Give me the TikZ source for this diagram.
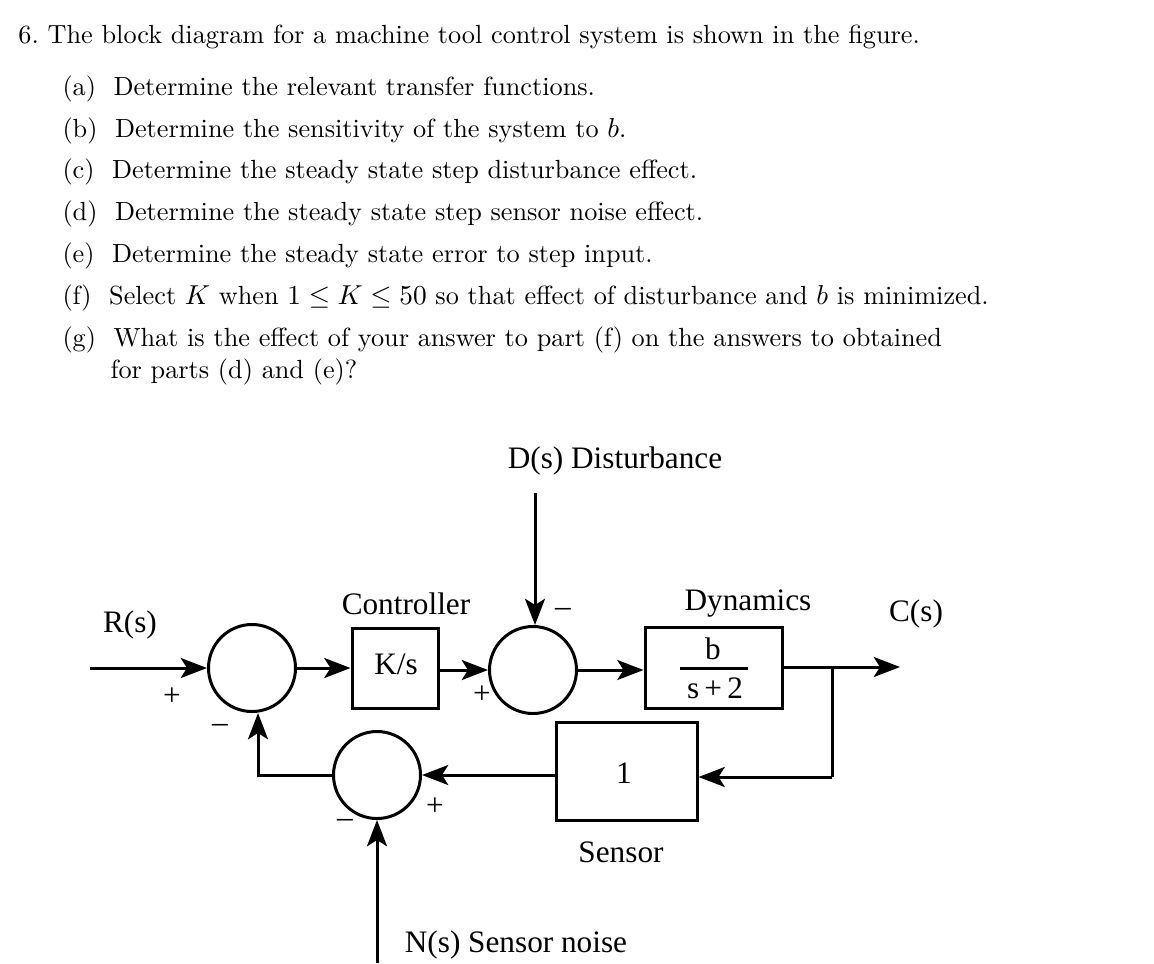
\documentclass[tikz,border=0pt]{standalone}
\usepackage{fontspec}
\usepackage{amsmath}
\newfontfamily\dfont{Liberation Serif}
\usetikzlibrary{arrows.meta}
\begin{document}
\begin{tikzpicture}[x=0.4pt,y=-0.4pt,
  txt/.style={anchor=west,inner sep=0,font=\fontsize{10.5}{12}\selectfont},
  lab/.style={inner sep=0,font=\dfont\fontsize{12.5}{14}\selectfont},
  sum/.style={circle,draw,line width=1.2pt,minimum size=34.8pt,inner sep=0},
  blk/.style={draw,line width=1.2pt,inner sep=0},
  sig/.style={line width=1.2pt,-{Stealth[length=10.5pt,width=8pt,inset=2.5pt]}},
  wire/.style={line width=1.2pt}]
\useasboundingbox (0,0) rectangle (1154,963);
\node[txt] (h) at (18,37) {6.\ The block diagram for a machine tool control system is shown in the figure.};
\node[txt] (a) at (62,89) {(a)\ \ Determine the relevant transfer functions.};
\node[txt] (b) at (62,131) {(b)\ \ Determine the sensitivity of the system to $b$.};
\node[txt] (c) at (62,172) {(c)\ \ Determine the steady state step disturbance effect.};
\node[txt] (d) at (62,214) {(d)\ \ Determine the steady state step sensor noise effect.};
\node[txt] (e) at (62,256) {(e)\ \ Determine the steady state error to step input.};
\node[txt] (f) at (62,298) {(f)\ \ Select $K$ when $1\le K\le 50$ so that effect of disturbance and $b$ is minimized.};
\node[txt] (g) at (62,340) {(g)\ \ What is the effect of your answer to part (f) on the answers to obtained};
\node[txt] (g2) at (110,372) {for parts (d) and (e)?};

\node[sum] (s1) at (252,668) {};
\node[sum] (s2) at (533,670) {};
\node[sum] (s3) at (377,775) {};
\node[blk,minimum width=34.4pt,minimum height=32pt] (k) at (395,668) {};
\node[lab] at (396,664) {K/s};
\node[blk,minimum width=54.8pt,minimum height=32.4pt] (dyn) at (713.5,667.5) {};
\node[lab] (num) at (713,649) {b};
\draw[wire] (680,668) -- (748,668);
\node[lab] at (715,688) {s\,+\,2};
\node[blk,minimum width=56.4pt,minimum height=39.2pt] (sen) at (626.5,771) {};
\node[lab] at (624,773) {1};

\coordinate (rin) at (90,668);
\coordinate (din) at (535,493);
\coordinate (cout) at (900,667);
\coordinate (br) at (832,667);
\coordinate (br2) at (832,777);
\coordinate (nin) at (377,963);
\coordinate (fb) at (258,775);

\draw[sig] (rin) -- (s1.west);
\draw[sig] (s1.east) -- (k.west |- s1.east);
\draw[sig] (k.east |- s2.west) -- (s2.west);
\draw[sig] (din) -- (din |- s2.north);
\draw[sig] (s2.east) -- (dyn.west |- s2.east);
\draw[sig] (dyn.east |- cout) -- (cout);
\draw[wire] (br) -- (br2);
\draw[sig] (br2) -- (sen.east |- br2);
\draw[sig] (sen.west |- s3.east) -- (s3.east);
\draw[sig] (nin) -- (s3.south);
\draw[sig] (s3.west) -- (fb) -- (fb |- s1.south);

\node[lab] at (130,625) {R(s)};
\node[lab] at (172,697) {+};
\node[lab] at (220,728) {\textendash};
\node[lab] at (406,604) {Controller};
\node[lab] at (482,695) {+};
\node[lab] at (615,461) {D(s) Disturbance};
\node[lab] at (563,612) {\textendash};
\node[lab] at (748,604) {Dynamics};
\node[lab] at (916,614) {C(s)};
\node[lab] at (435,807) {+};
\node[lab] at (345,823) {\textendash};
\node[lab] at (621,852) {Sensor};
\node[lab] at (516,945) {N(s) Sensor noise};
\end{tikzpicture}
\end{document}
